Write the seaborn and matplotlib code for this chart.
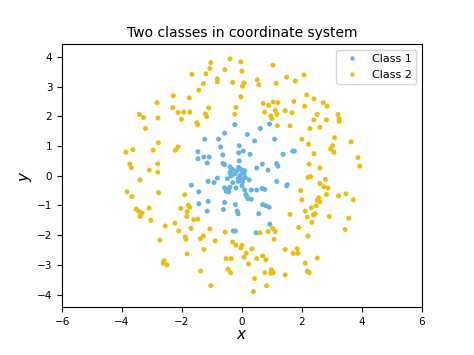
import pandas as pd
import matplotlib
matplotlib.use("Agg")
import matplotlib.pyplot as plt
import seaborn as sns

# Class 1 (inner cluster)
class1_x = [-1.47, -1.47, -1.69, -1.44, -1.44,
            -0.24, 0.61, 0.92, -0.58, 0.18, -1.24, -0.78, 0.42, 1.09, -0.09, -0.71,
            0.04, -0.11, 0.27, -0.64, -1.27, -1.09, 1.37, -1.16, -0.09, -0.64, -0.58,
            0.68, 0.49, 0.87, 1.16, 1.20,
            -0.40, -0.31, -0.38, -0.11, -0.16, -0.02, 0.02, 0.09, -0.24, -0.40,
            -0.13, -0.07, 0.00, 0.07, 0.11, 0.02, -0.13, -1.13, -0.82, -0.93, -0.49,
            -0.36, -0.31, 0.24, 1.16, 1.49, 1.51,
            -0.58, -0.49, -0.44, -0.53, -0.40, -0.20, 0.00, 0.09, 0.31, 0.49, 0.67, 0.76,
            0.13, 0.20, 0.31, 0.16, -1.13, -0.58, -0.22, 0.69, 0.80, 0.91,
            -1.16, -0.62, -0.16, -0.13, 0.56, 0.93, -0.29, -0.22, 0.47, 1.69, 1.75]
class1_y = [0.81, 0.57, -0.32, -0.54, -0.94,
            1.72, 1.59, 1.74, 1.43, 1.39, 1.23, 1.23, 1.17, 1.23, 1.01, 0.97,
            0.83, 0.77, 0.72, 0.70, 0.63, 0.63, 0.72, 0.43, 0.50, 0.41, 0.37,
            0.39, 0.26, 0.19, 0.41, 0.32,
            0.30, 0.21, 0.14, 0.28, 0.17, 0.21, 0.10, 0.17, 0.06, 0.10,
            -0.10, 0.01, -0.10, 0.08, -0.06, -0.21, -0.19, -0.19, -0.08, -0.23, -0.10,
            -0.01, -0.23, -0.14, -0.19, -0.34, -0.30,
            -0.41, -0.46, -0.54, -0.52, -0.39, -0.41, -0.34, -0.48, -0.48, -0.48, -0.43, -0.46,
            -0.63, -0.77, -0.79, -0.70, -0.86, -0.90, -0.97, -0.97, -1.01, -1.06,
            -1.19, -1.14, -1.19, -1.28, -1.28, -1.63, -1.86, -1.86, -1.92, 0.83, 0.83]

# Class 2 (outer ring)
class2_x = [-1.67, -1.44, -2.29, -1.76, -2.83, -2.31, -2.13, -1.94, -1.74, -3.42,
            -3.28, -2.80, -2.02, -1.51, -1.48, -3.22, -2.79, -3.87, -3.64, -2.96, -2.22,
            -2.13, -3.74, -3.69, -2.81, -3.09, -2.81,
            -3.40, -3.83, -3.67, -2.78, -1.91, -3.53, -3.44, -3.33, -3.40, -3.10, -3.04,
            -2.04, -1.79, -1.74, -1.83, -1.84, -1.61, -1.47, -2.56, -2.24, -2.11, -1.70,
            -1.89,
            -2.74, -1.87, -1.39, -2.60, -2.63, -2.50, -1.83, -1.38,
            -0.40, -1.04, -0.04, 1.03, -1.07, -0.57, 0.00, -1.20, -0.82, -0.82, -0.31,
            0.07, 0.02, 0.51, 0.56, 1.14, 1.49, -1.29, -0.04, 0.71, 0.89, 1.04, 1.20,
            -0.20, -1.11, 0.76, 1.11, 1.44, -1.22, -0.24,
            -1.18, 0.96, 1.00, 1.16, 1.18,
            1.78, 2.07, 2.16, 2.40, 1.73, 2.71, 2.84, 2.09, 1.67,
            2.51, 3.20, 3.24, 3.24, 2.40, 2.82, 1.60, 2.27, 2.60, 3.09, 2.00, 3.64,
            2.22, 3.02, 2.96, 3.07, 2.40, 3.87, 2.24, 3.93, 2.60,
            2.20, 2.29, 2.78, 2.60, 2.73, 2.87, 1.96, 2.82, 3.22, 3.47, 3.71, 2.00,
            2.56, 2.51, 2.60, 2.47, 2.31, 2.11, 2.44, 2.38, 2.18, 1.60, 2.91, 3.56,
            2.33, 1.89, 3.44, 2.20,
            -1.07, -0.56, 0.60, 0.87, 1.02, 1.11, -1.29,
            -0.89, -1.27, -0.31, -0.20, -0.04, 0.00, 0.33, 1.07, 1.44, 0.14, -0.53,
            -0.36, 0.07, 0.49, 0.69, 0.80, 0.22, -0.47, -0.38, 0.98, 1.04, 0.96, 0.76,
            1.44, 0.42, -1.04, 0.82, 0.38,
            1.84, 1.71, 1.87, 2.51, 2.11, 2.18, 2.24]
class2_y = [3.41, 2.88, 2.69, 2.62, 2.46, 2.29, 2.13, 2.14, 2.14, 2.06,
            1.96, 1.94, 1.90, 1.78, 1.72, 1.59, 1.11, 0.79, 0.88, 0.86, 0.86,
            0.97, 0.39, 0.27, 0.40, 0.19, 0.12,
            -0.14, -0.54, -0.70, -0.57, -0.64, -1.12, -1.20, -1.26, -1.37, -1.09, -1.50,
            -1.10, -0.99, -1.06, -1.21, -1.37, -1.48, -1.46, -1.69, -1.60, -1.86, -1.77,
            -2.06,
            -2.17, -2.14, -2.12, -2.86, -2.94, -3.00, -2.63, -3.21,
            3.93, 3.81, 3.83, 3.72, 3.61, 3.57, 3.52, 3.43, 3.26, 3.16, 3.14,
            3.12, 3.01, 3.23, 3.06, 3.11, 3.32, 3.10, 2.66, 2.43, 2.37, 2.48, 2.46,
            2.30, 2.28, 2.14, 2.20, 2.19, 2.08, 2.07,
            1.99, 2.01, 1.92, 2.06, 1.68,
            3.19, 3.39, 2.72, 2.59, 2.50, 2.46, 2.34, 2.34, 2.12,
            2.06, 2.06, 1.92, 1.83, 1.88, 1.88, 1.68, 1.59, 1.63, 1.28, 1.23, 1.14,
            1.06, 1.01, 0.90, 0.79, 0.74, 0.61, 0.39, 0.32, 0.26,
            -0.06, -0.03, -0.12, -0.26, -0.37, -0.41, -0.50, -0.63, -0.68, -0.61, -0.81, -0.81,
            -0.74, -0.83, -0.88, -1.01, -1.08, -1.19, -1.28, -1.32, -1.39, -1.30, -1.37, -1.43,
            -1.57, -1.74, -1.81, -2.03,
            -1.79, -1.90, -1.92, -1.88, -1.77, -1.88, -2.03,
            -2.19, -2.48, -2.23, -2.34, -2.43, -2.34, -2.46, -2.14, -2.48, -2.61, -2.79,
            -2.79, -2.74, -2.79, -2.70, -2.83, -2.97, -3.14, -3.26, -3.17, -3.26, -3.28, -3.26,
            -3.34, -3.46, -3.70, -3.70, -3.90,
            -2.46, -2.61, -2.61, -2.77, -2.94, -3.21, -3.26]

class_names = ["Class 1", "Class 2"]
colors = ["#66b2e4", "#ecbd10"]

df = pd.DataFrame({
    "x": class1_x + class2_x,
    "y": class1_y + class2_y,
    "label": [class_names[0]] * len(class1_x) + [class_names[1]] * len(class2_x),
})

fig, ax = plt.subplots(figsize=(4.74, 3.55), dpi=100)
sns.scatterplot(data=df, x="x", y="y", hue="label", palette=colors,
                s=13, linewidth=0, ax=ax)

ax.set_xlim(-6, 6)
ax.set_ylim(-4.42, 4.42)
ax.set_xticks([-6, -4, -2, 0, 2, 4, 6])
ax.set_yticks([-4, -3, -2, -1, 0, 1, 2, 3, 4])
ax.tick_params(labelsize=7.5)
ax.set_xlabel("$x$", fontsize=11, labelpad=0)
ax.set_ylabel("$y$", fontsize=11, labelpad=2)
ax.set_title("Two classes in coordinate system", fontsize=10, pad=5)
ax.legend(loc="upper right", fontsize=8, markerscale=0.9)

fig.subplots_adjust(left=0.131, right=0.89, bottom=0.135, top=0.875)
fig.savefig("out.png", dpi=100)
